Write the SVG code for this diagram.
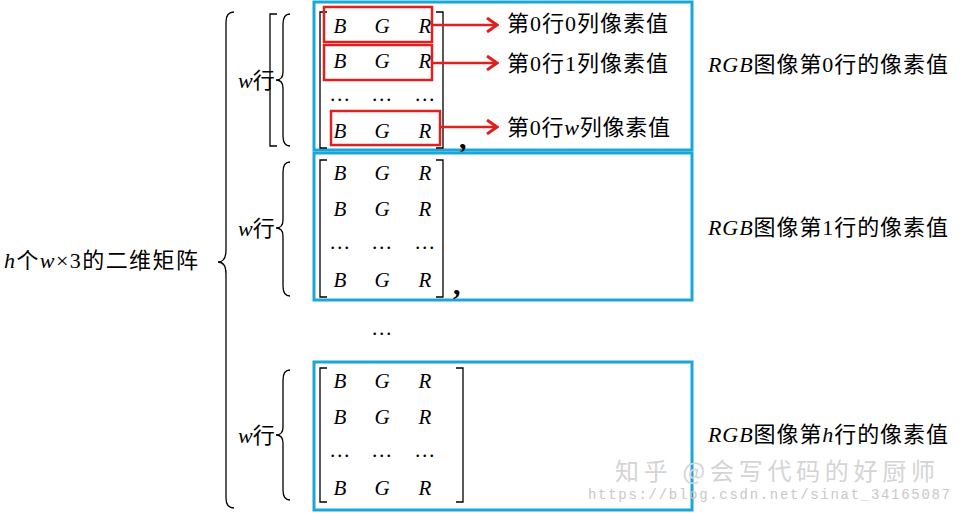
<svg xmlns="http://www.w3.org/2000/svg" width="961" height="513" viewBox="0 0 961 513">
<style>
.t{font-family:"Liberation Serif","Noto Sans CJK SC",serif;font-size:22px;fill:#000}
.i{font-style:italic}
.m{font-family:"Liberation Serif",serif;font-style:italic;font-size:21px;text-anchor:middle}
.c{font-family:"Liberation Serif",serif;font-size:30px;font-weight:bold}
.br{fill:none;stroke:#000;stroke-width:1.3}
.blue{fill:none;stroke:#1ba6d8;stroke-width:3}
.red{fill:none;stroke:#e02020;stroke-width:2.5}
.ar{stroke:#e02020;stroke-width:2.5;marker-end:url(#a)}
</style>
<defs><marker id="a" markerWidth="14" markerHeight="16" refX="12" refY="8" orient="auto" markerUnits="userSpaceOnUse"><path d="M2,1 L12,8 L2,15" fill="none" stroke="#e02020" stroke-width="3"/></marker></defs>
<rect width="961" height="513" fill="#fff"/>
<g id="root"><text class="t" x="4" y="268" textLength="194"><tspan class="i">h</tspan>个<tspan class="i">w</tspan>×3的二维矩阵</text>
<path class="br" d="M234,12 Q226,12 226,22 L226,250 Q226,262 218,262 Q226,262 226,274 L226,498 Q226,508 234,508"/></g>
<g id="block0">
<rect class="blue" x="314" y="2" width="378" height="148"/>
<text class="t" x="238" y="88"><tspan class="i">w</tspan>行</text>
<path class="br" d="M290,14 Q283,14 283,24 L283,72 Q283,80 276,80 Q283,80 283,88 L283,136 Q283,146 290,146"/>
<path class="br" d="M277,14 L270,14 L270,146 L277,146"/>
<path class="br" d="M327,12 L320,12 L320,148 L327,148 M436,12 L443,12 L443,148 L436,148"/>
<text class="m" x="340" y="33">B</text><text class="m" x="382" y="33">G</text><text class="m" x="425" y="33">R</text>
<text class="m" x="340" y="68">B</text><text class="m" x="382" y="68">G</text><text class="m" x="425" y="68">R</text>
<text class="m" x="340" y="101">…</text><text class="m" x="382" y="101">…</text><text class="m" x="425" y="101">…</text>
<text class="m" x="340" y="138">B</text><text class="m" x="382" y="138">G</text><text class="m" x="425" y="138">R</text>
<text class="c" x="459" y="148">,</text>
<rect class="red" x="324" y="7" width="108" height="35"/>
<rect class="red" x="324" y="45" width="108" height="35"/>
<rect class="red" x="331" y="111" width="109" height="34"/>
<text class="t" x="507" y="31" textLength="161">第0行0列像素值</text>
<text class="t" x="507" y="71" textLength="161">第0行1列像素值</text>
<text class="t" x="507" y="135" textLength="163">第0行<tspan class="i">w</tspan>列像素值</text>
<text class="t" x="708" y="72" textLength="240"><tspan class="i">RGB</tspan>图像第0行的像素值</text>
</g>
<g id="block1">
<rect class="blue" x="314" y="153" width="378" height="147"/>
<text class="t" x="238" y="236"><tspan class="i">w</tspan>行</text>
<path class="br" d="M290,162 Q283,162 283,172 L283,220 Q283,228 276,228 Q283,228 283,236 L283,286 Q283,296 290,296"/>
<path class="br" d="M327,160 L320,160 L320,297 L327,297 M436,160 L443,160 L443,297 L436,297"/>
<text class="m" x="340" y="180">B</text><text class="m" x="382" y="180">G</text><text class="m" x="425" y="180">R</text>
<text class="m" x="340" y="216">B</text><text class="m" x="382" y="216">G</text><text class="m" x="425" y="216">R</text>
<text class="m" x="340" y="249">…</text><text class="m" x="382" y="249">…</text><text class="m" x="425" y="249">…</text>
<text class="m" x="340" y="287">B</text><text class="m" x="382" y="287">G</text><text class="m" x="425" y="287">R</text>
<text class="c" x="453" y="294">,</text>
<text class="t" x="708" y="235" textLength="240"><tspan class="i">RGB</tspan>图像第1行的像素值</text>
</g>
<text class="m" x="382" y="335">…</text>
<g id="block2">
<rect class="blue" x="314" y="362" width="378" height="148"/>
<text class="t" x="238" y="443"><tspan class="i">w</tspan>行</text>
<path class="br" d="M290,370 Q283,370 283,380 L283,427 Q283,435 276,435 Q283,435 283,443 L283,490 Q283,500 290,500"/>
<path class="br" d="M327,368 L320,368 L320,502 L327,502 M456,368 L463,368 L463,502 L456,502"/>
<text class="m" x="340" y="388">B</text><text class="m" x="382" y="388">G</text><text class="m" x="425" y="388">R</text>
<text class="m" x="340" y="424">B</text><text class="m" x="382" y="424">G</text><text class="m" x="425" y="424">R</text>
<text class="m" x="340" y="457">…</text><text class="m" x="382" y="457">…</text><text class="m" x="425" y="457">…</text>
<text class="m" x="340" y="495">B</text><text class="m" x="382" y="495">G</text><text class="m" x="425" y="495">R</text>
<text class="t" x="708" y="442" textLength="240"><tspan class="i">RGB</tspan>图像第<tspan class="i">h</tspan>行的像素值</text>
</g>
<g id="connectors">
<line class="ar" x1="432" y1="25" x2="497" y2="25"/>
<line class="ar" x1="432" y1="63" x2="497" y2="63"/>
<line class="ar" x1="440" y1="127" x2="497" y2="127"/>
</g>
<text x="615" y="480" font-family="Noto Sans CJK SC,sans-serif" font-size="24" fill="#d4d4d4" textLength="320">知乎 @会写代码的好厨师</text>
<text x="588" y="499" font-family="Liberation Mono,monospace" font-size="14" fill="#c8c8c8" textLength="362">https://blog.csdn.net/sinat_34165087</text>
</svg>
